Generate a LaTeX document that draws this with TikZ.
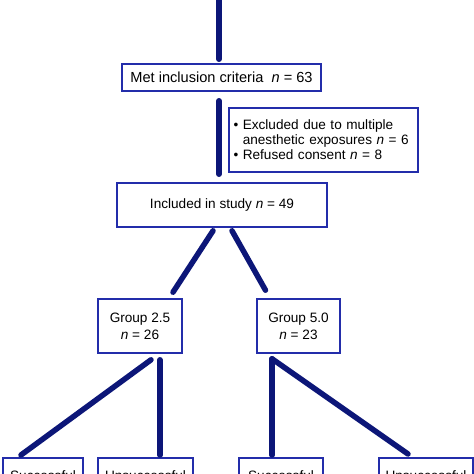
\documentclass[tikz,border=0pt]{standalone}
\usepackage{fontspec}
\setmainfont{Liberation Sans}
\definecolor{boxblue}{RGB}{35,45,170}
\definecolor{linenavy}{RGB}{12,22,120}
\begin{document}
\begin{tikzpicture}[x=1pt,y=-1pt,
  box/.style={draw=boxblue,line width=1.6pt,fill=white,inner sep=0pt,align=center,font=\fontsize{13.6}{17}\selectfont},
  lbl/.style={font=\fontsize{13.6}{17}\selectfont,anchor=base,inner sep=0pt},
  link/.style={draw=linenavy,line width=5.5pt,line cap=round}]
\useasboundingbox (0,0) rectangle (474,474);
\clip (0,0) rectangle (474,474);
\fill[white] (0,0) rectangle (474,474);
\coordinate (top) at (219,-6);
\node[box,minimum width=199pt,minimum height=27pt,font=\fontsize{14.6}{17}\selectfont] (met) at (221.5,77.5) {Met inclusion criteria\ \ \textit{n} = 63};
\node[box,minimum width=189pt,minimum height=64pt,align=left,text width=180pt,font=\fontsize{13.6}{15}\selectfont] (excl) at (323.5,140)
  {\textbullet\ Excluded due to multiple\\\hphantom{\textbullet\ }anesthetic exposures \textit{n} = 6\\\textbullet\ Refused consent \textit{n} = 8};
\node[box,minimum width=210pt,minimum height=44pt] (inc) at (222,205) {Included in study \textit{n} = 49};
\node[box,minimum width=84pt,minimum height=54pt] (g25) at (140,326) {Group 2.5\\\textit{n} = 26};
\node[box,minimum width=83pt,minimum height=54pt] (g50) at (298.5,326) {Group 5.0\\\textit{n} = 23};
\node[box,minimum width=80pt,minimum height=40pt,anchor=north] (s1) at (43,457) {};
\node[box,minimum width=95pt,minimum height=40pt,anchor=north] (u1) at (145.5,457) {};
\node[box,minimum width=84pt,minimum height=40pt,anchor=north] (s2) at (281,457) {};
\node[box,minimum width=94pt,minimum height=40pt,anchor=north] (u2) at (426,457) {};
\node[lbl] (s1t) at ([yshift=-23pt]s1.north) {Successful};
\node[lbl] (u1t) at ([yshift=-23pt]u1.north) {Unsuccessful};
\node[lbl] (s2t) at ([yshift=-23pt]s2.north) {Successful};
\node[lbl] (u2t) at ([yshift=-23pt]u2.north) {Unsuccessful};
\draw[link] (top) -- ([yshift=4pt]met.north -| top);
\draw[link] ([yshift=-9pt]met.south -| top) -- ([yshift=8pt]inc.north -| top);
\draw[link] ([xshift=-9pt,yshift=-3pt]inc.south) -- ([xshift=33pt,yshift=6pt]g25.north);
\draw[link] ([xshift=10pt,yshift=-3pt]inc.south) -- ([xshift=-33pt,yshift=8pt]g50.north);
\draw[link] ([xshift=11pt,yshift=-6pt]g25.south) -- ([xshift=-22pt,yshift=2pt]s1.north);
\draw[link] ([xshift=20pt,yshift=-6pt]g25.south) -- ([xshift=14.5pt,yshift=2pt]u1.north);
\draw[link] ([xshift=-26.5pt,yshift=-5pt]g50.south) -- ([xshift=-9pt,yshift=2pt]s2.north);
\draw[link] ([xshift=-26.5pt,yshift=-5pt]g50.south) -- ([xshift=-18pt,yshift=3pt]u2.north);
\end{tikzpicture}
\end{document}
